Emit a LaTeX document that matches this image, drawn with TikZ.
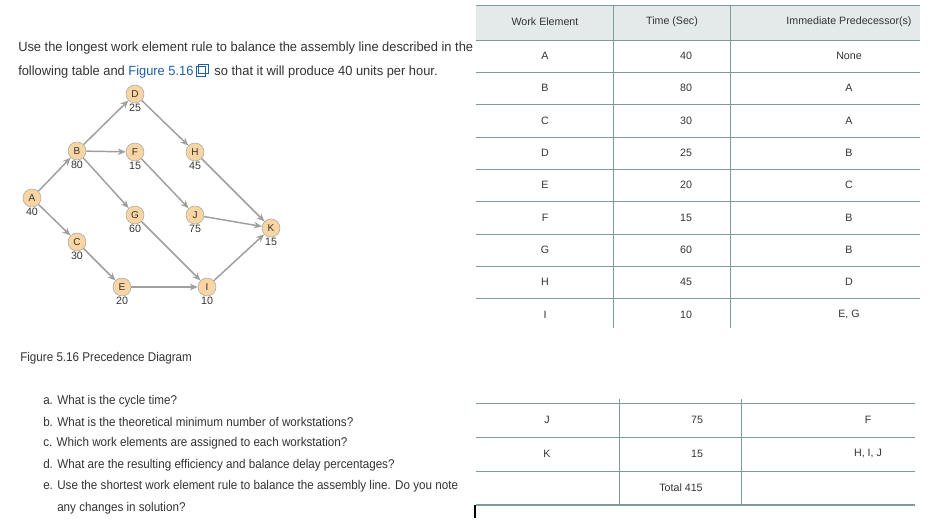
\documentclass[tikz,border=0pt]{standalone}
\usepackage{fontspec}
\setmainfont{Liberation Sans}
\newfontfamily\condfont[FakeStretch=0.92]{Liberation Sans}
\newfontfamily\bodyfont[FakeStretch=0.965]{Liberation Sans}
\usetikzlibrary{arrows.meta}
\definecolor{nodefill}{HTML}{F8D5A3}
\definecolor{hdr}{HTML}{E3EAE9}
\definecolor{tline}{HTML}{7F9A9A}
\definecolor{linkblue}{HTML}{1F5FA8}
\definecolor{txt}{HTML}{333333}
\tikzset{
  every node/.style={text=txt},
  wn/.style={circle,draw=gray!70,fill=nodefill,minimum size=13.5pt,inner sep=0pt,font=\fontsize{7.5}{8}\selectfont},
  lbl/.style={font=\fontsize{8}{9}\selectfont,anchor=north,inner sep=0pt},
  arr/.style={draw=gray!75,line width=1.1pt,-{Stealth[length=6pt,width=5pt]}},
  tl/.style={draw=tline,line width=0.7pt},
  tt/.style={font=\fontsize{8}{9}\selectfont},
  body/.style={font=\bodyfont\fontsize{10}{12}\selectfont,anchor=west,inner sep=0pt},
  qs/.style={font=\condfont\fontsize{9.5}{12}\selectfont,anchor=west,inner sep=0pt}
}
\begin{document}
\begin{tikzpicture}[x=0.75pt,y=-0.75pt]
\useasboundingbox (0,0) rectangle (937,527);
% intro text
\node[body] (t1) at (18,48) {Use the longest work element rule to balance the assembly line described in the};
\node[body] (t2) at (18,71) {following table and \textcolor{linkblue}{Figure 5.16}\,\textcolor{linkblue}{\raisebox{-1pt}{\tikz\draw[linkblue,line width=0.7pt](0,0) rectangle (7pt,7pt) (2pt,2pt) rectangle (9pt,9pt);}}\, so that it will produce 40 units per hour.};
% diagram nodes
\node[wn] (A) at (32,198) {A};
\node[wn] (B) at (77,151) {B};
\node[wn] (C) at (77,242) {C};
\node[wn] (D) at (135,94) {D};
\node[wn] (F) at (135,152) {F};
\node[wn] (G) at (135,215) {G};
\node[wn] (H) at (195,152) {H};
\node[wn] (J) at (195,215) {J};
\node[wn] (K) at (271,228) {K};
\node[wn] (E) at (122,287) {E};
\node[wn] (I) at (207,287) {I};
\foreach \n/\v in {A/40,B/80,C/30,D/25,F/15,G/60,H/45,J/75,K/15,E/20,I/10}
  \node[lbl] (l\n) at ([yshift=-0.5pt]\n.south) {\v};
\draw[arr] (A) -- (B);
\draw[arr] (A) -- (C);
\draw[arr] (B) -- (D);
\draw[arr] (B) -- (F);
\draw[arr] (B) -- (G);
\draw[arr] (D) -- (H);
\draw[arr] (F) -- (J);
\draw[arr] (H) -- (K);
\draw[arr] (J) -- (K);
\draw[arr] (C) -- (E);
\draw[arr] (E) -- (I);
\draw[arr] (G) -- (I);
\draw[arr] (I) -- (K);
\node[qs] (cap) at (20,358) {Figure 5.16 Precedence Diagram};
% questions
\node[qs] (q1) at (43,401) {a. What is the cycle time?};
\node[qs] (q2) at (43,422) {b. What is the theoretical minimum number of workstations?};
\node[qs] (q3) at (43,443) {c. Which work elements are assigned to each workstation?};
\node[qs] (q4) at (43,465) {d. What are the resulting efficiency and balance delay percentages?};
\node[qs] (q5) at (43,486) {e. Use the shortest work element rule to balance the assembly line. Do you note};
\node[qs] (q6) at (57,508) {any changes in solution?};
% top table
\fill[hdr] (476,5) rectangle (920,40);
\draw[tl] (476,5) -- (920,5);
\draw[tl] (476,40) -- (920,40);
\foreach \y in {72,104,137,169,201,234,266,298} \draw[tl] (476,\y) -- (920,\y);
\draw[tl] (613,5) -- (613,328);
\draw[tl] (730,5) -- (730,328);
\node[tt] (h1) at (545,22) {Work Element};
\node[tt] (h2) at (672,22) {Time (Sec)};
\node[tt] (h3) at (849,22) {Immediate Predecessor(s)};
\foreach \e/\t/\p [count=\i] in {A/40/None,B/80/A,C/30/A,D/25/B,E/20/C,F/15/B,G/60/B,H/45/D,I/10/{E, G}}{
  \pgfmathsetmacro\yy{56+32.3*(\i-1)}
  \node[tt] (e\i) at (545,\yy) {\e};
  \node[tt] (s\i) at (686,\yy) {\t};
  \node[tt] (p\i) at (849,\yy) {\p};
}
% bottom table
\foreach \y in {403,437,471} \draw[tl] (476,\y) -- (915,\y);
\draw[tl,line width=1pt] (476,505) -- (915,505);
\draw[tl] (619,399) -- (619,505);
\draw[tl] (741,399) -- (741,505);
\node[tt] (eJ) at (547,420) {J};
\node[tt] (sJ) at (697,420) {75};
\node[tt] (pJ) at (868,420) {F};
\node[tt] (eK) at (547,454) {K};
\node[tt] (sK) at (697,454) {15};
\node[tt] (pK) at (868,454) {H, I, J};
\node[tt] (tot) at (681,488) {Total 415};
\draw[black,line width=0.8pt] (475,505) -- (475,518);
\end{tikzpicture}
\end{document}
